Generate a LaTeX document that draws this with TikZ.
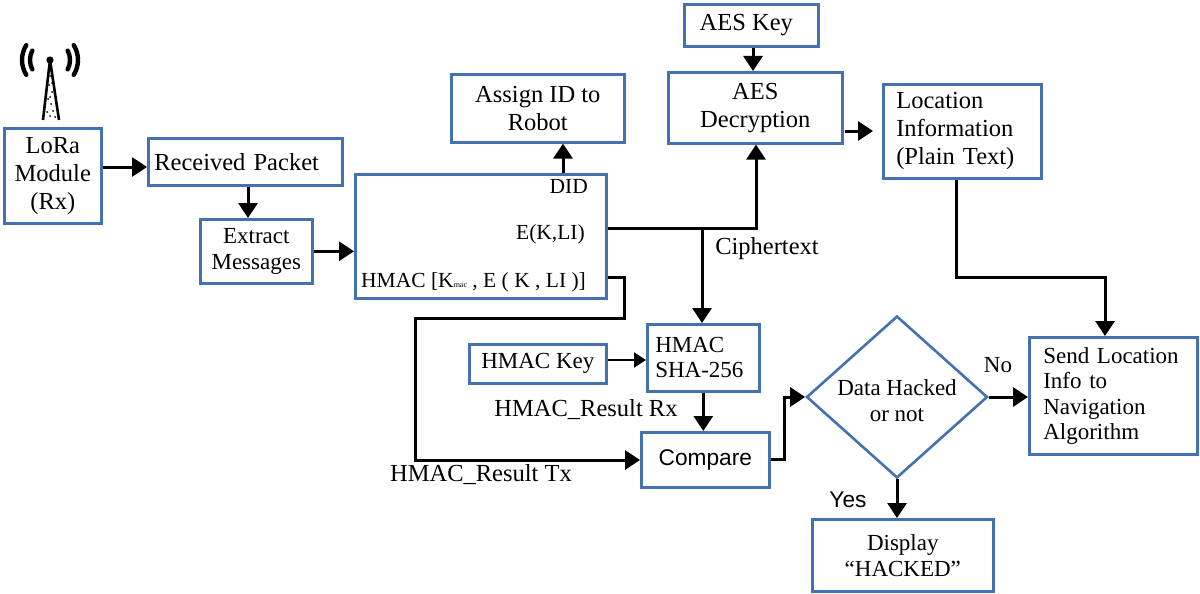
\documentclass[tikz,border=0pt]{standalone}
\usepackage{fontspec}
\setmainfont{Liberation Serif}
\newfontfamily\arialf{Liberation Sans}
\usetikzlibrary{arrows.meta,shapes.geometric,calc}
\definecolor{boxblue}{RGB}{68,114,176}
\begin{document}
\begin{tikzpicture}[x=1pt,y=-1pt,
 box/.style={draw=boxblue,line width=2.6pt,inner sep=0pt,anchor=north west,align=center},
 fL/.style={font=\fontsize{24.5}{28}\selectfont},
 fM/.style={font=\fontsize{23}{26}\selectfont},
 fS/.style={font=\fontsize{21.5}{26}\selectfont},
 fAr/.style={font=\arialf\fontsize{22.7}{27}\selectfont},
 ln/.style={line width=3pt},
 arr/.style={ln,-{Triangle[length=15pt,width=19pt]}},
 thinarr/.style={line width=2pt,-{Triangle[length=12pt,width=15pt]}},
 wave/.style={line width=4.4pt,line cap=round},
 lbl/.style={inner sep=0pt}]
\useasboundingbox (0,0) rectangle (1200,594);

% antenna
\fill (50,60) circle (3.6);
\draw[line width=2.6pt] (50,60) -- (43,120) (50,60) -- (59,120);
\foreach \p in {(50,76),(49,85),(52,92),(48,99),(51,104),(53,111),(47,112),(50,116),(55,117),(50,97),(52,83)}
  \fill \p circle (1);
\draw[wave] (50,60) ++(152:20) arc (152:208:20);
\draw[wave] (50,60) ++(148:28) arc (148:212:28);
\draw[wave] (50,60) ++(28:20) arc (28:-28:20);
\draw[wave] (50,60) ++(32:28) arc (32:-32:28);

% boxes
\node[box,fL,minimum width=97pt,minimum height=95pt] (lora) at (3,127) {LoRa\\Module\\(Rx)};
\node[box,fL,minimum width=194pt,minimum height=47pt,text width=182pt,align=left] (recv) at (147,137) {Received Packet};
\node[box,fM,minimum width=112pt,minimum height=64pt] (extract) at (199,218) {Extract\\Messages};
\node[box,minimum width=251pt,minimum height=124pt] (big) at (354,173) {};
\node[box,fL,minimum width=173pt,minimum height=68pt] (assign) at (450,73) {Assign ID to\\Robot};
\node[box,fL,minimum width=134pt,minimum height=42pt] (aeskey) at (683,3) {AES Key\hspace*{10pt}};
\node[box,fL,minimum width=174pt,minimum height=71pt] (aesdec) at (667,71) {AES\\Decryption};
\node[box,fL,minimum width=158pt,minimum height=94pt,text width=132pt,align=left] (loc) at (882,83) {Location\\Information\\(Plain Text)};
\node[box,minimum width=168pt,minimum height=117pt,text width=140pt,align=left,font=\fontsize{23}{25.5}\selectfont] (send) at (1028,336) {Send Location\\Info to\\Navigation\\Algorithm};
\node[box,minimum width=112pt,minimum height=67pt,text width=96pt,align=left,font=\fontsize{23}{25}\selectfont] (sha) at (646,323) {HMAC\\SHA-256};
\node[box,fM,minimum width=137pt,minimum height=39pt] (hkey) at (468,343) {HMAC Key};
\node[box,fAr,minimum width=128pt,minimum height=55pt] (compare) at (640,431) {Compare};
\node[draw=boxblue,line width=2.6pt,diamond,minimum width=181pt,minimum height=162pt,inner sep=0pt] (dia) at (897,397) {};
\node[fM,align=center,inner sep=0pt] (diatext) at (897,401) {Data Hacked\\or not};
\node[box,fM,minimum width=181pt,minimum height=72pt] (disp) at (811,518) {Display\\“HACKED”};

% texts inside the big box
\node[fS,anchor=east,inner sep=0pt] (did) at (588,186) {DID};
\node[fS,anchor=east,inner sep=0pt] (ekl) at (585,234) {E(K,LI)};
\node[fS,anchor=west,inner sep=0pt] (hm) at (361,282) {HMAC [K{\fontsize{8}{8}\selectfont mac} , E ( K , LI )]};

% labels
\node[fL,lbl] (ciph) at (767,249) {Ciphertext};
\node[fL,lbl] (rrx) at (586,410) {HMAC\_Result Rx};
\node[fL,lbl] (rtx) at (481,475) {HMAC\_Result Tx};
\node[fM,lbl] (no) at (998,365) {No};
\node[fAr,lbl] (yes) at (848,500) {Yes};

% connectors
\coordinate (y1) at (0,167);
\draw[arr] (lora.east |- y1) -- (recv.west |- y1);
\coordinate (x2) at (248,0);
\draw[arr] (recv.south -| x2) -- (extract.north -| x2);
\draw[arr] (extract.east) -- (extract.east -| big.west);
\coordinate (x4) at (563,0);
\draw[arr] (big.north -| x4) -- (assign.south -| x4);
\coordinate (y5) at (0,228);
\coordinate (x5) at (702,0);
\coordinate (x5b) at (756,0);
\draw[arr] (big.east |- y5) -- (x5b |- y5) -- (aesdec.south -| x5b);
\draw[arr] (x5 |- y5) -- (sha.north -| x5);
\coordinate (x6) at (753,0);
\draw[arr] (aeskey.south -| x6) -- (aesdec.north -| x6);
\coordinate (y7) at (0,131);
\draw[arr,shorten >=9pt,shorten <=1pt] (aesdec.east |- y7) -- (loc.west |- y7);
\coordinate (x8) at (956,0);
\coordinate (y8) at (0,277);
\coordinate (x8b) at (1105,0);
\draw[arr] (loc.south -| x8) -- (x8 |- y8) -- (x8b |- y8) -- (send.north -| x8b);
\draw[arr] (sha.south) -- (sha.south |- compare.north);
\coordinate (y10) at (0,360);
\draw[thinarr] (hkey.east |- y10) -- (sha.west |- y10);
\coordinate (f1) at (624,277);
\coordinate (f2) at (624,318);
\coordinate (f3) at (415,318);
\coordinate (f4) at (415,460);
\draw[arr] (big.east |- f1) -- (f1) -- (f2) -- (f3) -- (f4) -- (compare.west |- f4);
\coordinate (g1) at (784,0);
\draw[arr] (compare.east) -- (compare.east -| g1) |- (dia.west);
\draw[arr] (dia.east) -- (dia.east -| send.west);
\draw[arr] (dia.south) -- (dia.south |- disp.north);
\end{tikzpicture}
\end{document}
